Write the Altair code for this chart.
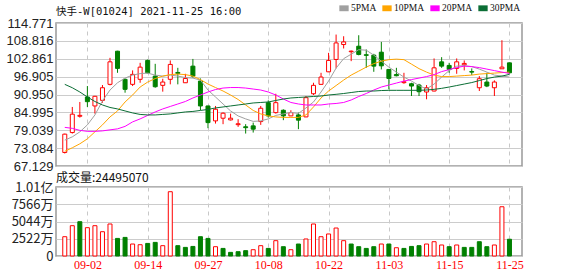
import altair as alt
import pandas as pd

# ---------------- data ----------------
dates = ["08-30", "08-31", "09-01", "09-02", "09-03", "09-06", "09-07", "09-08", "09-09", "09-10",
         "09-13", "09-14", "09-15", "09-16", "09-17", "09-20", "09-21", "09-23", "09-24", "09-27",
         "09-28", "09-29", "09-30", "10-04", "10-05", "10-06", "10-07", "10-08", "10-11", "10-12",
         "10-15", "10-18", "10-19", "10-20", "10-21", "10-22", "10-25", "10-26", "10-27", "10-28",
         "10-29", "11-01", "11-02", "11-03", "11-04", "11-05", "11-08", "11-09", "11-10", "11-11",
         "11-12", "11-15", "11-16", "11-17", "11-18", "11-19", "11-22", "11-23", "11-24", "11-25"]

opens = [71.64, 78.27, 83.70, 90.12, 87.13, 89.00, 94.33, 105.38, 96.00, 94.33,
         96.00, 102.30, 97.08, 94.00, 96.00, 98.30, 94.86, 100.40, 95.43, 87.13,
         82.16, 83.05, 82.49, 80.90, 80.20, 80.50, 81.93, 88.23, 84.91, 85.70,
         83.82, 84.15, 83.49, 91.20, 94.33, 98.51, 102.63, 107.60, 105.20, 107.04,
         104.20, 104.06, 105.05, 99.30, 97.60, 94.90, 94.53, 94.10, 91.78, 92.11,
         101.83, 100.64, 99.64, 100.84, 98.60, 93.20, 95.10, 93.20, 99.51, 101.50]
highs = [77.90, 86.80, 88.46, 93.77, 90.50, 94.10, 103.16, 105.50, 96.30, 98.98,
         101.50, 102.60, 101.17, 96.20, 102.30, 99.84, 97.85, 102.80, 96.30, 87.20,
         87.13, 85.00, 84.58, 82.72, 81.06, 81.59, 87.13, 89.00, 91.20, 86.00,
         85.70, 84.91, 90.45, 94.86, 98.18, 104.82, 110.92, 110.36, 105.60, 110.69,
         105.95, 104.50, 108.47, 99.40, 99.84, 98.18, 94.86, 94.50, 94.10, 102.96,
         103.39, 101.50, 102.96, 102.30, 99.64, 97.08, 98.18, 95.66, 109.03, 101.60]
lows = [71.30, 77.94, 83.25, 86.80, 84.58, 88.20, 94.00, 98.18, 91.55, 93.77,
        94.86, 98.00, 93.20, 91.90, 94.33, 94.33, 94.80, 96.52, 85.70, 79.73,
        81.26, 81.06, 82.30, 80.17, 77.94, 78.27, 80.83, 83.25, 84.58, 82.40,
        83.80, 79.40, 83.40, 90.78, 94.20, 98.40, 99.64, 106.28, 102.06, 104.00,
        99.84, 98.51, 99.30, 92.67, 97.00, 94.53, 90.45, 90.45, 89.36, 92.00,
        99.84, 98.18, 97.85, 98.98, 97.42, 92.11, 93.40, 90.45, 99.50, 98.00]
closes = [77.74, 84.40, 84.00, 88.56, 90.35, 93.20, 101.83, 99.64, 92.67, 97.65,
          100.07, 98.18, 93.54, 95.10, 100.97, 98.00, 96.30, 97.08, 87.13, 81.59,
          86.04, 84.71, 83.05, 81.20, 79.90, 79.40, 86.37, 83.82, 88.23, 83.82,
          84.91, 82.40, 89.89, 94.00, 96.76, 102.30, 108.13, 108.47, 105.40, 104.29,
          104.00, 100.40, 100.50, 96.30, 97.20, 95.20, 93.77, 91.88, 93.20, 99.84,
          100.40, 99.30, 101.83, 101.30, 98.40, 96.20, 93.77, 95.10, 100.07, 98.18]

ma5 = [75.75, 76.84, 78.50, 80.83, 84.14, 88.79, 92.44, 94.86, 96.42, 97.42,
       97.91, 98.08, 97.42, 97.08, 97.42, 97.08, 96.59, 96.42, 95.76, 92.44,
       90.12, 87.79, 85.47, 83.81, 82.82, 81.99, 82.15, 82.82, 83.98, 84.48,
       84.97, 84.64, 86.47, 88.46, 91.78, 95.43, 99.74, 102.89, 104.38, 105.88,
       105.71, 104.05, 102.06, 100.07, 98.41, 96.75, 95.43, 93.93, 92.77, 94.43,
       96.75, 98.91, 100.40, 100.57, 100.24, 99.41, 98.41, 97.42, 97.08, 96.75]
ma10 = [72.03, 73.20, 74.52, 76.18, 78.50, 80.83, 83.48, 85.47, 88.46, 90.78,
        93.44, 95.09, 96.26, 97.08, 97.58, 97.75, 97.58, 97.08, 95.92, 94.43,
        93.27, 92.11, 90.78, 89.29, 87.46, 85.64, 84.48, 83.81, 83.48, 83.32,
        83.32, 83.32, 84.14, 86.80, 89.79, 92.11, 93.93, 95.76, 97.42, 98.74,
        100.07, 101.23, 102.06, 102.56, 102.73, 102.56, 101.07, 99.57, 98.41, 97.42,
        96.92, 96.92, 97.08, 97.25, 97.42, 97.75, 97.91, 98.08, 98.25, 98.41]
ma20 = [80.00, 79.67, 79.00, 78.67, 78.67, 78.83, 79.17, 79.50, 80.33, 81.82,
        82.82, 83.98, 85.14, 86.14, 86.97, 87.79, 88.62, 89.79, 90.78, 91.78,
        92.61, 93.10, 93.27, 93.27, 93.10, 92.77, 92.44, 91.78, 90.78, 89.45,
        88.29, 87.79, 87.46, 87.46, 87.46, 87.79, 87.96, 88.29, 89.12, 90.28,
        91.28, 92.44, 93.44, 94.10, 94.76, 95.43, 95.92, 96.42, 96.92, 97.58,
        98.58, 99.24, 99.91, 100.40, 100.24, 99.91, 99.41, 98.91, 98.41, 97.98]
ma30 = [94.33, 93.20, 91.78, 90.12, 88.62, 87.46, 86.63, 86.14, 85.47, 84.81,
        84.31, 84.14, 84.14, 84.31, 84.48, 84.81, 85.14, 85.31, 85.64, 85.97,
        86.47, 86.80, 87.13, 87.46, 87.79, 88.13, 88.29, 88.46, 88.96, 89.45,
        89.79, 89.96, 90.12, 90.29, 90.45, 90.78, 91.01, 91.28, 91.61, 91.94,
        92.11, 92.11, 92.27, 92.34, 92.34, 92.34, 92.34, 92.34, 92.44, 92.67,
        93.00, 93.44, 93.93, 94.43, 94.93, 95.59, 96.26, 96.75, 97.08, 97.65]

# volume in 万 (10k shares)
volumes = [2820, 4430, 5015, 4140, 4430, 3550, 4680, 2570, 2720, 1750,
           1650, 1840, 1990, 1510, 9400, 1510, 1260, 1400, 2820, 2570,
           1360, 1110, 530, 630, 780, 920, 1510, 1110, 2240, 1360,
           920, 1750, 2490, 4680, 2820, 3220, 4090, 2240, 1750, 1360,
           1110, 1360, 1750, 1750, 1210, 1110, 1400, 1510, 1750, 2090,
           1610, 1360, 1610, 1260, 1260, 2090, 1360, 1610, 7200, 2449.507]
vol_dir = ["up", "up", "down", "up", "up", "up", "up", "down", "down", "up",
           "up", "down", "down", "up", "up", "down", "down", "down", "down", "down",
           "up", "down", "down", "down", "down", "up", "up", "down", "up", "down",
           "up", "down", "up", "up", "up", "up", "up", "up", "down", "down",
           "down", "down", "up", "down", "up", "down", "down", "down", "up", "up",
           "up", "down", "up", "down", "down", "down", "down", "up", "up", "down"]

price_ticks = [67.129, 73.084, 79.039, 84.995, 90.950, 96.905, 102.861, 108.816, 114.771]
price_tick_labels = ["67.129", "73.084", "79.039", "84.995", "90.950", "96.905",
                     "102.861", "108.816", "114.771"]
vol_ticks = [0, 2522, 5044, 7566, 10088]
vol_tick_labels = ["0", "2522万", "5044万", "7566万", "1.01亿"]
date_tick_idx = [3, 11, 19, 27, 35, 43, 51, 59]

ma_names = ["5PMA", "10PMA", "20PMA", "30PMA"]
ma_colors = ["#a0a0a0", "#ffa500", "#ff00ff", "#0b6e35"]

title_text = "快手-W[01024] 2021-11-25 16:00"
vol_title = "成交量:24495070"

RED = "#ff0000"
GREEN = "#008000"

# ---------------- tables ----------------
n = len(dates)
candles = pd.DataFrame({
    "idx": list(range(n)), "date": dates, "open": opens, "high": highs,
    "low": lows, "close": closes,
})
candles["col"] = [RED if c >= o else GREEN for o, c in zip(opens, closes)]
candles["fillc"] = ["#ffffff" if c >= o else GREEN for o, c in zip(opens, closes)]

ma_rows = []
for name, vals in zip(ma_names, [ma5, ma10, ma20, ma30]):
    for i, v in enumerate(vals):
        ma_rows.append({"idx": i, "series": name, "value": v})
ma_df = pd.DataFrame(ma_rows)

vol_df = pd.DataFrame({"idx": list(range(n)), "vol": volumes, "dir": vol_dir})
vol_df["col"] = [RED if d == "up" else GREEN for d in vol_dir]
vol_df["fillc"] = ["#ffffff" if d == "up" else GREEN for d in vol_dir]

# ---------------- scales / axes ----------------
xscale = alt.Scale(domain=[-0.5, 60], nice=False, zero=False)

def tern(values, labels):
    expr = "''"
    for v, l in reversed(list(zip(values, labels))):
        expr = f"abs(datum.value - {v}) < 0.0005 ? '{l}' : ({expr})"
    return expr

date_expr = tern(date_tick_idx, [dates[i] for i in date_tick_idx])
vol_expr = tern(vol_ticks, vol_tick_labels)
price_expr = tern(price_ticks, price_tick_labels)

x_top = alt.X("idx:Q", scale=xscale, title=None,
              axis=alt.Axis(values=date_tick_idx, labels=False, ticks=False, domain=False,
                            grid=True, gridDash=[4, 4], gridColor="#c8c8c8"))
x_bot = alt.X("idx:Q", scale=xscale, title=None,
              axis=alt.Axis(values=date_tick_idx, labelExpr=date_expr, ticks=False, domain=False,
                            grid=True, gridDash=[4, 4], gridColor="#c8c8c8",
                            labelColor=RED, labelFont="Liberation Sans Narrow",
                            labelFontSize=12, labelPadding=3, labelOverlap=False))

yprice = alt.Scale(domain=[67.129, 114.771], nice=False, zero=False)
yaxis = alt.Axis(values=price_ticks, labelExpr=price_expr, title=None, ticks=False, domain=False,
                 labelPadding=3, gridColor="#cccccc", labelOverlap=False, labelBound=False,
                 labelFlush=False)

wick = alt.Chart(candles).mark_rule(strokeWidth=1).encode(
    x=x_top,
    y=alt.Y("low:Q", scale=yprice, axis=yaxis),
    y2="high:Q",
    color=alt.Color("col:N", scale=None),
)
body = alt.Chart(candles).mark_bar(size=4, strokeWidth=1).encode(
    x=x_top,
    y=alt.Y("open:Q", scale=yprice, axis=yaxis),
    y2="close:Q",
    fill=alt.Fill("fillc:N", scale=None),
    stroke=alt.Stroke("col:N", scale=None),
)
lines = alt.Chart(ma_df).mark_line(strokeWidth=1).encode(
    x=x_top,
    y=alt.Y("value:Q", scale=yprice, axis=yaxis),
    color=alt.Color("series:N", sort=ma_names,
                    scale=alt.Scale(domain=ma_names, range=ma_colors),
                    legend=alt.Legend(title=None, orient="none", direction="horizontal",
                                      legendX=283, legendY=-20,
                                      symbolType="M-1,-0.45H1V0.45H-1Z", symbolSize=40,
                                      symbolStrokeWidth=3,
                                      labelFont="Liberation Serif", labelFontSize=9.5,
                                      labelColor="#111", labelOffset=2, columnPadding=0)),
    detail="series:N",
)

top = alt.layer(wick, body, lines).resolve_scale(color="independent").properties(
    width=466, height=143,
    title=alt.TitleParams(title_text, anchor="start", frame="group", fontSize=10.5,
                          font="DejaVu Sans Mono, Noto Sans CJK SC", fontWeight="normal",
                          color="#111", offset=-14),
)

vol = alt.Chart(vol_df).mark_bar(size=4, strokeWidth=1).encode(
    x=x_bot,
    y=alt.Y("vol:Q", scale=alt.Scale(domain=[0, 10088], nice=False),
            axis=alt.Axis(values=vol_ticks, labelExpr=vol_expr, title=None, ticks=False,
                          domain=False, labelPadding=3, gridColor="#cccccc",
                          labelFont="Noto Sans CJK SC", labelOverlap=False)),
    fill=alt.Fill("fillc:N", scale=None),
    stroke=alt.Stroke("col:N", scale=None),
).properties(
    width=466, height=69,
    title=alt.TitleParams(vol_title, anchor="start", frame="group", fontSize=12,
                          font="Noto Sans CJK SC", fontWeight="normal", color="#111",
                          offset=-4),
)

chart = alt.vconcat(top, vol, spacing=-3).properties(
    padding={"left": 5, "top": 2, "right": 4, "bottom": 2},
    background="#ffffff",
).configure_view(
    stroke="#999999", strokeWidth=1.5
).configure_axis(
    labelFont="Liberation Sans", labelFontSize=13, labelColor="#222222"
)

chart.save("out.html", embed_options={"renderer": "svg", "actions": False})
